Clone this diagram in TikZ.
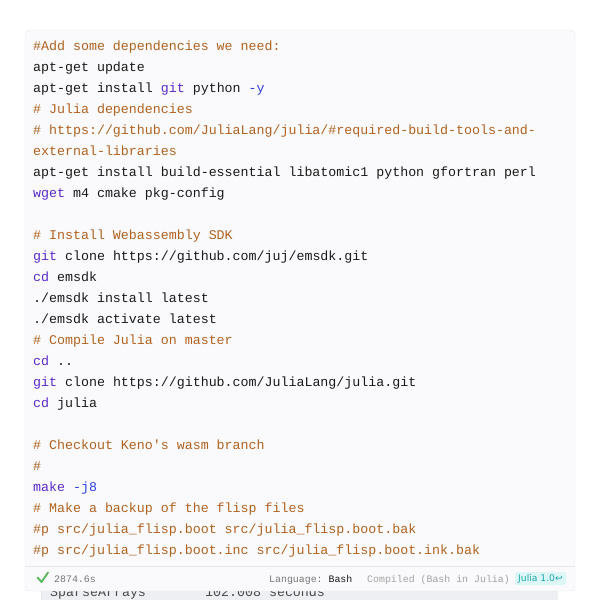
\documentclass[tikz,border=0pt]{standalone}
\usepackage{fontspec}
\usepackage{xcolor}
\setmonofont{Liberation Mono}
\newfontfamily\badgefont{DejaVu Sans}
\usetikzlibrary{positioning}

\definecolor{cmtbrown}{HTML}{B0621E}
\definecolor{kwpurple}{HTML}{5A2BC8}
\definecolor{optblue}{HTML}{2D3FDD}
\definecolor{codeblack}{HTML}{1A1A1A}
\definecolor{cardbg}{HTML}{FAFAFC}
\definecolor{cardline}{HTML}{E4E6EC}
\definecolor{footgray}{HTML}{777777}
\definecolor{footlight}{HTML}{A3A3A3}
\definecolor{checkgreen}{HTML}{5CB85C}
\definecolor{badgebg}{HTML}{DDF6F6}
\definecolor{badgetext}{HTML}{1BA6AC}
\definecolor{belowbg}{HTML}{EEEFF3}

\newcommand{\codekw}[1]{\textcolor{kwpurple}{#1}}
\newcommand{\codeopt}[1]{\textcolor{optblue}{#1}}

\begin{document}
\begin{tikzpicture}[x=1pt,y=-1pt]
    \tikzstyle{codeline} = [anchor=base west, inner sep=0pt, text=codeblack, font=\fontsize{13.3}{15}\selectfont\ttfamily]
    \tikzstyle{comment} = [codeline, text=cmtbrown]
    \tikzstyle{footer} = [anchor=base west, inner sep=0pt, font=\fontsize{9.9}{12}\selectfont\ttfamily]

    \useasboundingbox (0,0) rectangle (600,600);

    % cell below, mostly hidden
    \fill[belowbg] (41,588) rectangle (558,600);
    \draw[cardline] (41,588) -- (41,600);
    \begin{scope}
        \clip (41,591) rectangle (558,600);
        \node (hidden) [codeline, text=codeblack!80] at (50,596) {SparseArrays};
        \node (hiddentime) [codeline, text=codeblack!80] at (205,596) {102.008 seconds};
    \end{scope}

    % card
    \draw[cardline, fill=cardbg, rounded corners=4pt] (25,30) rectangle (575,591);
    \draw[cardline] (25,566) -- (575,566);

    % code
    \node (l1) [comment] at (33,50) {\#Add some dependencies we need:};
    \node (l2) [codeline] at (33,71) {apt-get update};
    \node (l3) [codeline] at (33,92) {apt-get install \codekw{git} python \codeopt{-y}};
    \node (l4) [comment] at (33,113) {\# Julia dependencies};
    \node (l5) [comment] at (33,134) {\# https://github.com/JuliaLang/julia/\#required-build-tools-and-};
    \node (l6) [comment] at (33,155) {external-libraries};
    \node (l7) [codeline] at (33,176) {apt-get install build-essential libatomic1 python gfortran perl};
    \node (l8) [codeline] at (33,197) {\codekw{wget} m4 cmake pkg-config};
    \node (l10) [comment] at (33,239) {\# Install Webassembly SDK};
    \node (l11) [codeline] at (33,260) {\codekw{git} clone https://github.com/juj/emsdk.git};
    \node (l12) [codeline] at (33,281) {\codekw{cd} emsdk};
    \node (l13) [codeline] at (33,302) {./emsdk install latest};
    \node (l14) [codeline] at (33,323) {./emsdk activate latest};
    \node (l15) [comment] at (33,344) {\# Compile Julia on master};
    \node (l16) [codeline] at (33,365) {\codekw{cd} ..};
    \node (l17) [codeline] at (33,386) {\codekw{git} clone https://github.com/JuliaLang/julia.git};
    \node (l18) [codeline] at (33,407) {\codekw{cd} julia};
    \node (l20) [comment] at (33,449) {\# Checkout Keno's wasm branch};
    \node (l21) [comment] at (33,470) {\#};
    \node (l22) [codeline] at (33,491) {\codekw{make} \codeopt{-j8}};
    \node (l23) [comment] at (33,512) {\# Make a backup of the flisp files};
    \node (l24) [comment] at (33,533) {\#p src/julia\_flisp.boot src/julia\_flisp.boot.bak};
    \node (l25) [comment] at (33,554) {\#p src/julia\_flisp.boot.inc src/julia\_flisp.boot.ink.bak};

    % footer
    \draw[checkgreen, line width=1.9pt, line cap=round, line join=round] (37.5,577.5) -- (41.5,582) -- (48,572.5);
    \node (runtime) [footer, text=footgray] at (54,582) {2874.6s};
    \node (lang) [footer, text=footgray] at (269,582) {Language: \textcolor{codeblack}{Bash}};
    \node (compiled) [footer, text=footlight] at (367,582) {Compiled (Bash in Julia)};
    \node (badge) [fill=badgebg, rounded corners=2pt, text=badgetext, inner sep=0pt, minimum width=51pt, minimum height=13pt, font=\fontsize{9.2}{10}\selectfont\badgefont] at (540.5,578.5) {Julia 1.0↩};
\end{tikzpicture}
\end{document}
